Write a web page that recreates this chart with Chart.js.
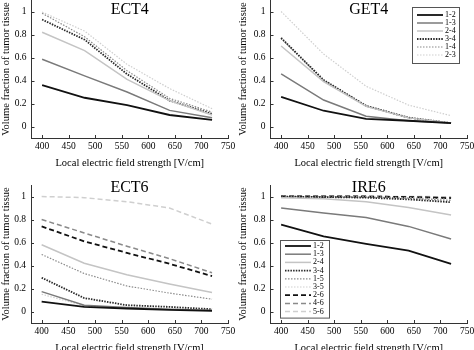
<!DOCTYPE html>
<html>
<head>
<meta charset="utf-8">
<script src="https://cdn.jsdelivr.net/npm/chart.js@4.4.1/dist/chart.umd.min.js"></script>
<style>
  html, body { margin: 0; padding: 0; background: #fff; overflow: hidden; }
  canvas { position: absolute; }
</style>
</head>
<body>
<canvas id="ect4" width="237" height="175" style="left:0;top:0"></canvas>
<canvas id="get4" width="237" height="175" style="left:237px;top:0"></canvas>
<canvas id="ect6" width="237" height="182" style="left:0;top:175px"></canvas>
<canvas id="ire6" width="237" height="182" style="left:237px;top:175px"></canvas>
<script>
// field strength samples [V/cm]
const fieldStrength = [400, 480, 560, 640, 720];
const xTicks = [400, 450, 500, 550, 600, 650, 700, 750];
const yTicks = [0, 0.2, 0.4, 0.6, 0.8, 1];

// 4 electrodes
const pairs4 = ['1-2', '1-3', '2-4', '3-4', '1-4', '2-3'];
const ect4 = [
  [0.36, 0.25, 0.185, 0.10, 0.057],
  [0.585, 0.44, 0.30, 0.14, 0.077],
  [0.82, 0.66, 0.41, 0.225, 0.10],
  [0.93, 0.755, 0.455, 0.225, 0.11],
  [0.985, 0.78, 0.485, 0.245, 0.125],
  [0.995, 0.83, 0.54, 0.33, 0.155]
];
const get4 = [
  [0.257, 0.137, 0.066, 0.05, 0.03],
  [0.457, 0.23, 0.09, 0.05, 0.03],
  [0.70, 0.39, 0.175, 0.075, 0.03],
  [0.77, 0.405, 0.18, 0.077, 0.03],
  [0.765, 0.40, 0.178, 0.076, 0.03],
  [1.0, 0.63, 0.35, 0.186, 0.094]
];

// 6 electrodes
const pairs6 = ['1-2', '1-3', '2-4', '3-4', '1-5', '3-5', '2-6', '4-6', '5-6'];
const ect6 = [
  [0.086, 0.04, 0.026, 0.015, 0.006],
  [0.173, 0.055, 0.035, 0.02, 0.01],
  [0.58, 0.42, 0.32, 0.24, 0.165],
  [0.294, 0.117, 0.055, 0.04, 0.02],
  [0.496, 0.33, 0.222, 0.16, 0.107],
  [0.15, 0.05, 0.03, 0.02, 0.01],
  [0.74, 0.61, 0.51, 0.415, 0.308],
  [0.80, 0.683, 0.568, 0.46, 0.337],
  [1.0, 0.99, 0.955, 0.90, 0.76]
];
const ire6 = [
  [0.755, 0.654, 0.588, 0.53, 0.415],
  [0.90, 0.856, 0.818, 0.74, 0.63],
  [0.99, 0.98, 0.955, 0.905, 0.84],
  [1.0, 0.995, 0.99, 0.975, 0.95],
  [1.0, 0.998, 0.995, 0.985, 0.965],
  [1.0, 1.0, 0.998, 0.99, 0.975],
  [1.0, 1.0, 1.0, 0.995, 0.985],
  [1.0, 1.0, 1.0, 0.998, 0.99],
  [1.0, 1.0, 1.0, 1.0, 0.998]
];

// line look per series slot (black / gray / light, solid / dotted / dashed)
const lineStyles = [
  { borderColor: '#111', borderWidth: 1.8, borderDash: [] },
  { borderColor: '#7a7a7a', borderWidth: 1.5, borderDash: [] },
  { borderColor: '#c4c4c4', borderWidth: 1.5, borderDash: [] },
  { borderColor: '#2a2a2a', borderWidth: 1.8, borderDash: [1.5, 1.2] },
  { borderColor: '#8a8a8a', borderWidth: 1.2, borderDash: [1.5, 1.5] },
  { borderColor: '#cfcfcf', borderWidth: 1.2, borderDash: [1.5, 1.5] },
  { borderColor: '#111', borderWidth: 1.8, borderDash: [5, 3] },
  { borderColor: '#8a8a8a', borderWidth: 1.5, borderDash: [5, 3] },
  { borderColor: '#cfcfcf', borderWidth: 1.5, borderDash: [5, 3] }
];

const serif = "'Liberation Serif', 'DejaVu Serif', serif";

// matlab look: title inside the axes, inward ticks, legend box in the plot
const panelDecor = {
  id: 'panelDecor',
  afterDraw(chart, args, opts) {
    const ctx = chart.ctx;
    const area = chart.chartArea;
    ctx.save();
    // inward ticks
    ctx.strokeStyle = '#333';
    ctx.lineWidth = 1;
    const sx = chart.scales.x, sy = chart.scales.y;
    sx.ticks.forEach(t => {
      const px = Math.round(sx.getPixelForValue(t.value)) + 0.5;
      ctx.beginPath(); ctx.moveTo(px, area.bottom); ctx.lineTo(px, area.bottom - 3); ctx.stroke();
    });
    sy.ticks.forEach(t => {
      const py = Math.round(sy.getPixelForValue(t.value)) + 0.5;
      ctx.beginPath(); ctx.moveTo(area.left, py); ctx.lineTo(area.left + 3, py); ctx.stroke();
    });
    // title
    ctx.fillStyle = '#000';
    ctx.font = '16px ' + serif;
    ctx.textAlign = 'center';
    ctx.textBaseline = 'middle';
    ctx.fillText(opts.title, (area.left + area.right) / 2, area.top + opts.titleDy);
    // legend
    if (opts.legend) {
      const L = opts.legend;
      const n = chart.data.datasets.length;
      const h = L.pad * 2 + L.rowH * (n - 1);
      ctx.fillStyle = '#fff';
      ctx.fillRect(L.x, L.y, L.w, h);
      ctx.strokeStyle = '#555';
      ctx.lineWidth = 1;
      ctx.strokeRect(L.x + 0.5, L.y + 0.5, L.w, h);
      ctx.font = '8px ' + serif;
      ctx.textAlign = 'left';
      chart.data.datasets.forEach((ds, i) => {
        const y = L.y + L.pad + i * L.rowH;
        ctx.strokeStyle = ds.borderColor;
        ctx.lineWidth = ds.borderWidth;
        ctx.setLineDash(ds.borderDash);
        ctx.beginPath(); ctx.moveTo(L.x + 5, y); ctx.lineTo(L.x + 31, y); ctx.stroke();
        ctx.setLineDash([]);
        ctx.fillStyle = '#000';
        ctx.fillText(ds.label, L.x + 33, y);
      });
    }
    ctx.restore();
  }
};

function makeChart(id, title, labels, values, lay) {
  new Chart(document.getElementById(id), {
    type: 'line',
    data: {
      datasets: labels.map((lab, i) => Object.assign({
        label: lab,
        data: fieldStrength.map((x, j) => ({ x: x, y: values[i][j] })),
        pointRadius: 0,
        tension: 0,
        fill: false
      }, lineStyles[i]))
    },
    options: {
      responsive: false,
      animation: false,
      layout: { padding: { left: 0, right: lay.right, top: lay.top, bottom: 0 } },
      scales: {
        x: {
          type: 'linear',
          min: 380,
          max: 750,
          afterBuildTicks: s => { s.ticks = xTicks.map(v => ({ value: v })); },
          afterFit: s => { s.height = lay.xh; s.paddingLeft = 0; s.paddingRight = 0; },
          grid: { display: false, drawTicks: false },
          border: { display: true, color: '#333', width: 1 },
          ticks: { color: '#000', font: { family: serif, size: 9.5 }, padding: 3, maxRotation: 0, autoSkip: false },
          title: {
            display: true,
            text: 'Local electric field strength [V/cm]',
            color: '#000',
            font: { family: serif, size: 10.5 },
            padding: { top: 0, bottom: lay.xtb }
          }
        },
        y: {
          min: -0.1,
          max: 1.1,
          afterBuildTicks: s => { s.ticks = yTicks.map(v => ({ value: v })); },
          afterFit: s => { s.width = lay.yw; s.paddingTop = 0; s.paddingBottom = 0; },
          grid: { display: false, drawTicks: false },
          border: { display: true, color: '#333', width: 1 },
          ticks: {
            color: '#000',
            font: { family: serif, size: 9.5 },
            padding: 5,
            callback: v => String(Math.round(v * 10) / 10)
          },
          title: {
            display: true,
            text: 'Volume fraction of tumor tissue',
            color: '#000',
            font: { family: serif, size: 10.5 },
            padding: { top: 0, bottom: 0 }
          }
        }
      },
      plugins: {
        legend: { display: false },
        tooltip: { enabled: false },
        panelDecor: { title: title, titleDy: lay.titleDy, legend: lay.legend }
      }
    },
    plugins: [panelDecor]
  });
}

makeChart('ect4', 'ECT4', pairs4, ect4, { right: 9, top: 0, xh: 37, xtb: 5, yw: 31.5, titleDy: 10 });
makeChart('get4', 'GET4', pairs4, get4, {
  right: 7, top: 0, xh: 37, xtb: 5, yw: 33.5, titleDy: 10,
  legend: { x: 175, y: 7, w: 47, rowH: 8, pad: 8 }
});
makeChart('ect6', 'ECT6', pairs6, ect6, { right: 9, top: 10, xh: 34, xtb: 2, yw: 31, titleDy: 3 });
makeChart('ire6', 'IRE6', pairs6, ire6, {
  right: 7, top: 10, xh: 34, xtb: 2, yw: 33.5, titleDy: 3,
  legend: { x: 43, y: 65, w: 49, rowH: 8.2, pad: 6 }
});
</script>
</body>
</html>
